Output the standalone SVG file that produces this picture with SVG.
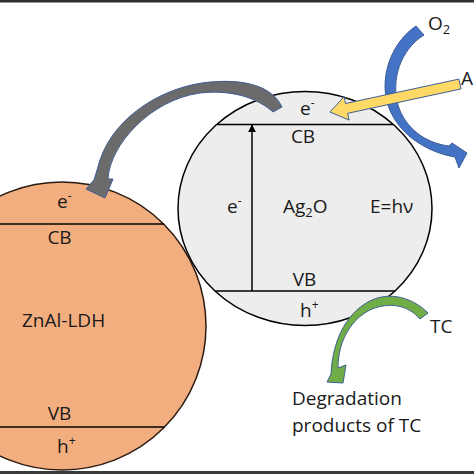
<svg xmlns="http://www.w3.org/2000/svg" width="474" height="474" viewBox="0 0 474 474">
<defs>
<style>
text{font-family:"Open Sans","Liberation Sans",sans-serif;font-size:19px;fill:#1a1a1a}
.sup{font-size:12px}
.band{stroke:#000;stroke-width:1.5;fill:none}
.arrowshape{stroke:#3F5F95;stroke-width:1;stroke-linejoin:round}
</style>
<marker id="ah" viewBox="0 0 10 10" refX="9" refY="5" markerWidth="8" markerHeight="8" markerUnits="userSpaceOnUse" orient="auto">
<path d="M0,0 L10,5 L0,10 Z" fill="#000"/>
</marker>
</defs>
<rect x="0" y="0" width="474" height="474" fill="#fff"/>
<rect x="0" y="0" width="474" height="2.5" fill="#2e2e2e"/>
<rect x="0" y="471" width="474" height="3" fill="#3a3a3a"/>

<g id="ag2o">
<ellipse cx="305" cy="208.5" rx="127" ry="117" fill="#EDEDED" stroke="#000" stroke-width="1.5"/>
<line class="band" x1="217" y1="124.5" x2="393" y2="124.5"/>
<line class="band" x1="215" y1="291" x2="395" y2="291"/>
<text x="300" y="115">e<tspan class="sup" dy="-8">-</tspan></text>
<text x="303" y="143" text-anchor="middle">CB</text>
<text x="227" y="213">e<tspan class="sup" dy="-8">-</tspan></text>
<text x="283" y="213">Ag<tspan font-size="13" dy="4">2</tspan><tspan dy="-4">O</tspan></text>
<text x="370" y="213">E=hν</text>
<text x="304.5" y="286" text-anchor="middle">VB</text>
<text x="300" y="317">h<tspan class="sup" dy="-8">+</tspan></text>
</g>

<g id="znal-ldh">
<circle cx="62" cy="326" r="144" fill="#F3AE80" stroke="#2a1a10" stroke-width="1.5"/>
<line class="band" x1="0" y1="224" x2="164" y2="224"/>
<line class="band" x1="0" y1="427" x2="164" y2="427"/>
<text x="57" y="208">e<tspan class="sup" dy="-8">-</tspan></text>
<text x="59.5" y="244" text-anchor="middle">CB</text>
<text x="22" y="327">ZnAl-LDH</text>
<text x="59.5" y="420" text-anchor="middle">VB</text>
<text x="57" y="453">h<tspan class="sup" dy="-8">+</tspan></text>
</g>

<g id="labels">
<text x="428" y="30">O<tspan font-size="13" dy="4">2</tspan></text>
<text x="461" y="85">A</text>
<text x="430" y="333">TC</text>
<text x="292" y="405">Degradation</text>
<text x="292" y="432">products of TC</text>
</g>

<g id="connectors">
<line x1="252" y1="291" x2="252" y2="125" stroke="#000" stroke-width="1.5" marker-end="url(#ah)"/>
<path class="arrowshape" fill="#6B6B6B" d="M282,107 C272,86 245,79 210,82 C165,86 115,115 100,160 L94,180 L86,189 L105,198 L113,179 L108,179 C110,145 150,100 200,93 C235,89 260,100 273,112 Z"/>
<path class="arrowshape" fill="#4472C4" d="M416,26 C392,42 380,75 387,102 C395,132 425,152 455,157 L459,168 L467,153 L452,143 L449,146 C425,143 405,128 398,105 C391,80 400,50 424,35 Z"/>
<path class="arrowshape" fill="#FFD966" d="M458.9,79.1 L345.5,103.5 L344.1,96.7 L330,112 L349.1,120.1 L347.7,113.3 L461.1,88.9 Z"/>
<path class="arrowshape" fill="#70AD47" d="M428,313 C412,297 390,292 372,300 C350,310 333,335 331,374 L327,382 L343,383 L346,365 L338,368 C338,340 352,318 372,309 C390,302 408,305 420,319 Z"/>
</g>
</svg>
